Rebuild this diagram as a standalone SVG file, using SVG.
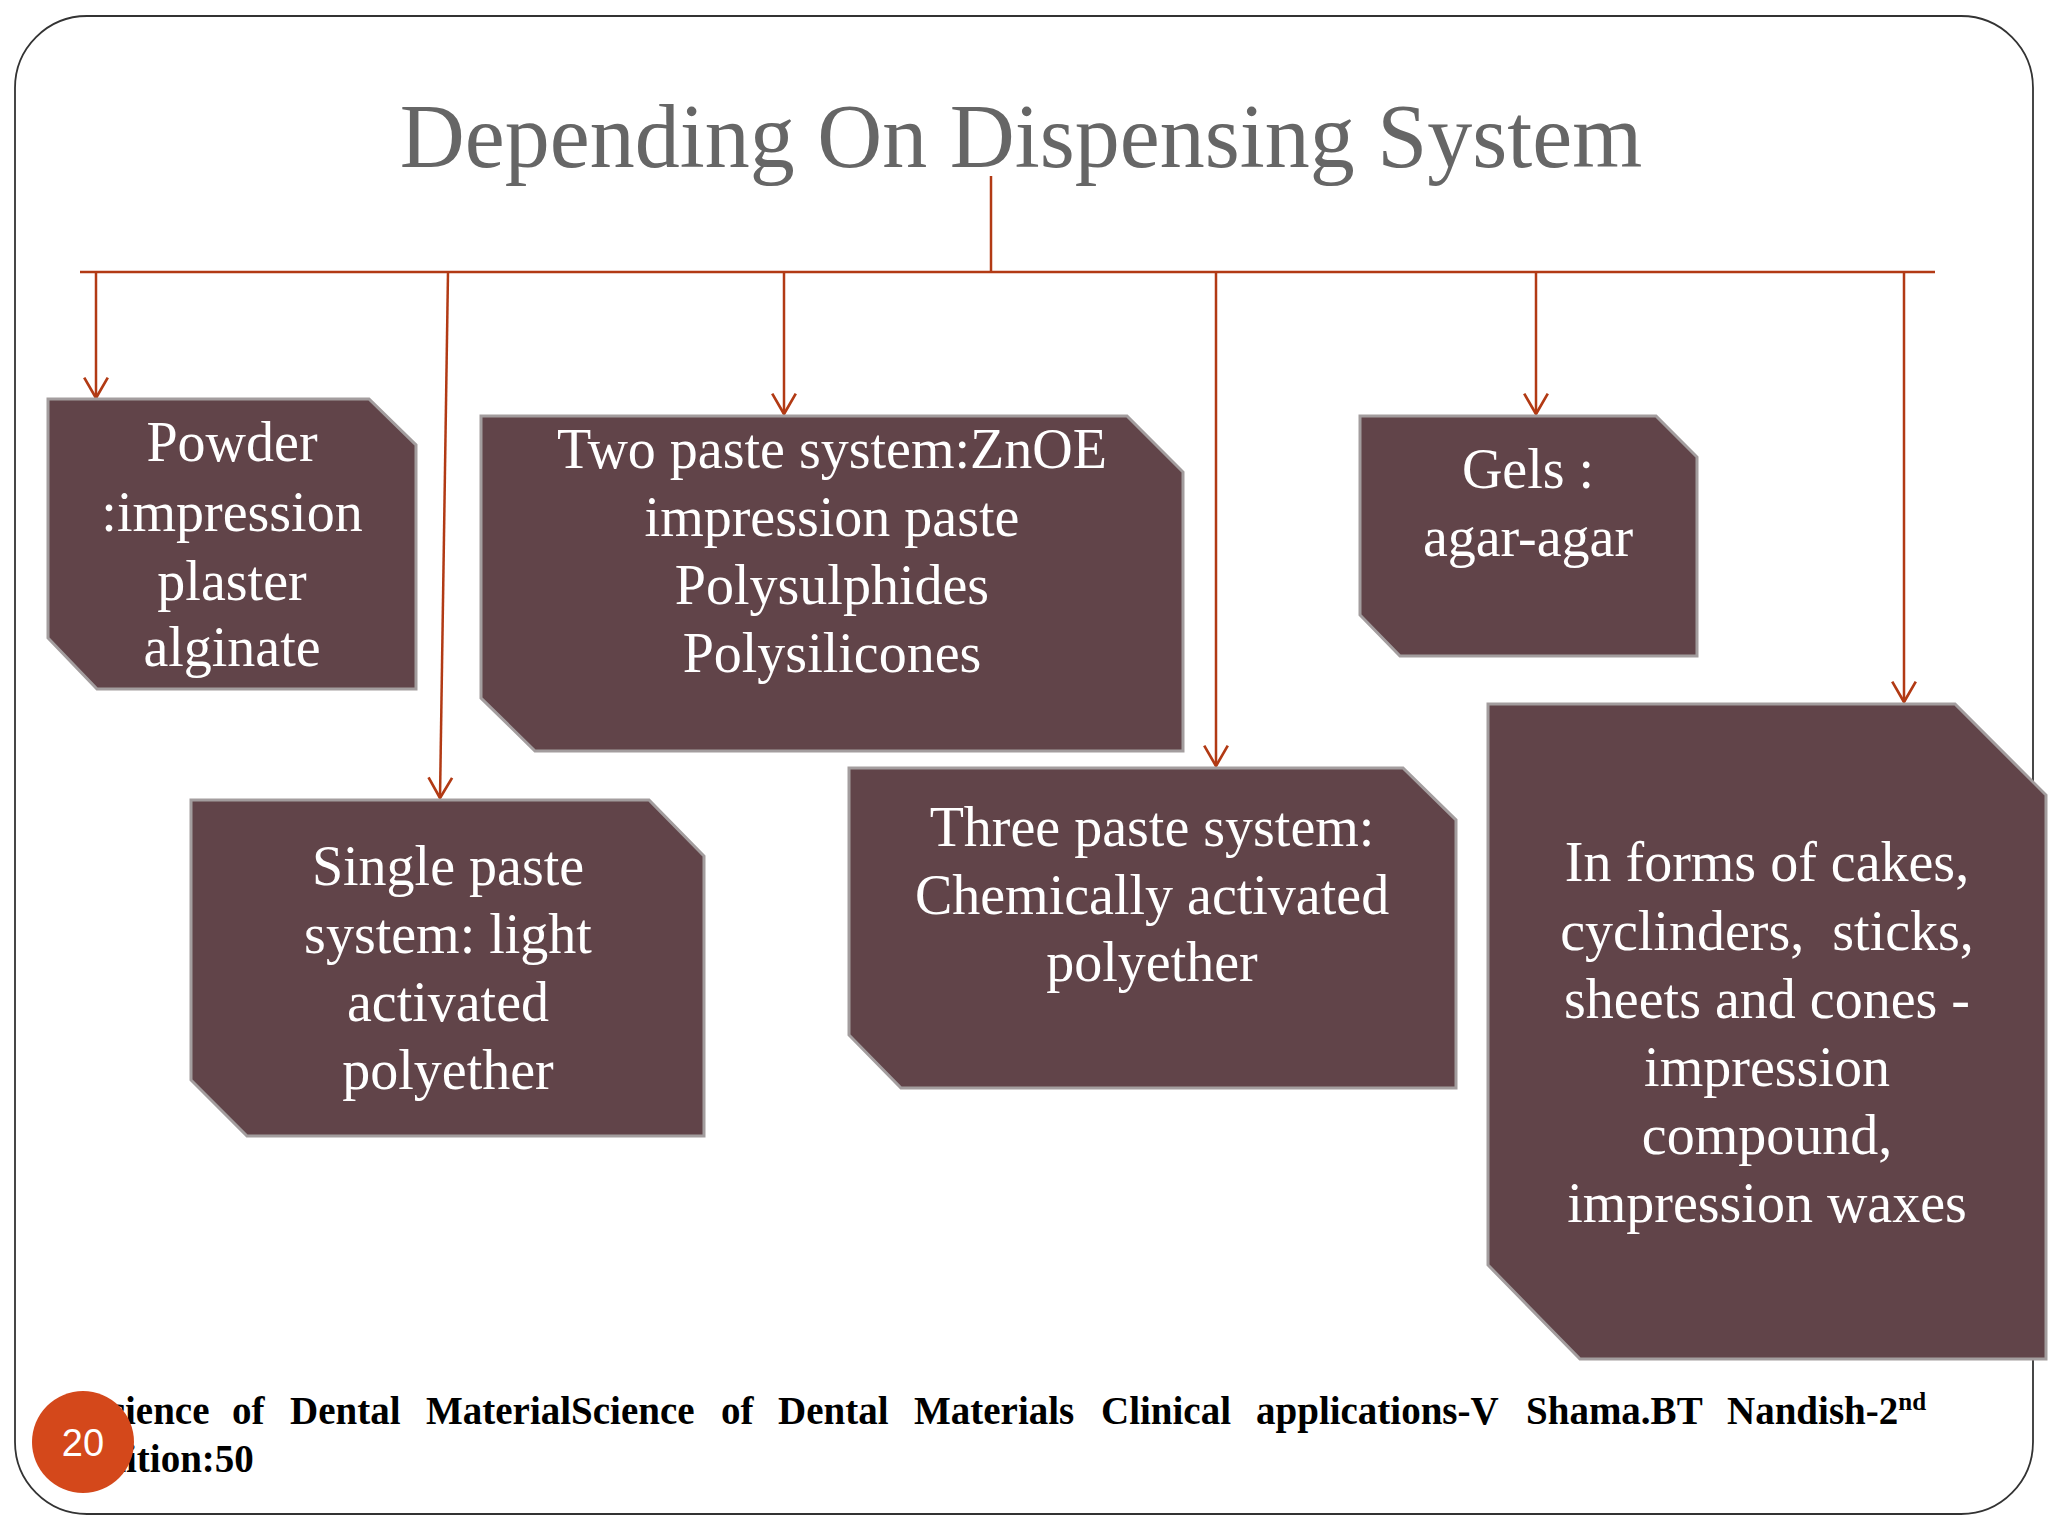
<svg xmlns="http://www.w3.org/2000/svg" width="2048" height="1536" viewBox="0 0 2048 1536">
<style>
.box{fill:#614449;stroke:#a39d9e;stroke-width:3}
.bt{font-family:"Liberation Serif","Times New Roman",serif;font-size:56px;fill:#ffffff;text-anchor:middle}
.con{stroke:#b23a14;stroke-width:2.5;fill:none}
.ft{font-family:"Liberation Serif","Times New Roman",serif;font-size:39px;font-weight:bold;fill:#000}
</style>
<defs>
<marker id="arr" markerUnits="userSpaceOnUse" markerWidth="30" markerHeight="30" viewBox="-22 -14 24 28" refX="0" refY="0" orient="auto" overflow="visible">
<path d="M-19,-11 L0,0 L-19,11" fill="none" stroke="#b23a14" stroke-width="2.5"/>
</marker>
</defs>
<rect x="0" y="0" width="2048" height="1536" fill="#ffffff"/>
<rect x="15" y="16" width="2018" height="1498" rx="72" ry="72" fill="#ffffff" stroke="#333333" stroke-width="1.8"/>
<text x="1021" y="167" font-family="'Liberation Serif','Times New Roman',serif" font-size="90" fill="#666666" text-anchor="middle">Depending On Dispensing System</text>
<g id="connectors">
<path class="con" d="M991,176 V272"/>
<path class="con" d="M80,272 H1935"/>
<path class="con" d="M96,272 V398" marker-end="url(#arr)"/>
<path class="con" d="M448,272 L440,798" marker-end="url(#arr)"/>
<path class="con" d="M784,272 V414" marker-end="url(#arr)"/>
<path class="con" d="M1216,272 V766" marker-end="url(#arr)"/>
<path class="con" d="M1536,272 V414" marker-end="url(#arr)"/>
<path class="con" d="M1904,272 V702" marker-end="url(#arr)"/>
</g>
<g id="node-powder">
<path class="box" d="M48,399 H369 L416,445 V689 H97 L48,638 Z"/>
<text class="bt" x="232" y="461">Powder</text>
<text class="bt" x="232" y="531">:impression</text>
<text class="bt" x="232" y="600">plaster</text>
<text class="bt" x="232" y="666">alginate</text>
</g>
<g id="node-two-paste">
<path class="box" d="M481,416 H1127 L1183,472 V751 H535 L481,698 Z"/>
<text class="bt" x="832" y="468">Two paste system:ZnOE</text>
<text class="bt" x="832" y="536">impression paste</text>
<text class="bt" x="832" y="604">Polysulphides</text>
<text class="bt" x="832" y="672">Polysilicones</text>
</g>
<g id="node-gels">
<path class="box" d="M1360,416 H1656 L1697,457 V656 H1400 L1360,615 Z"/>
<text class="bt" x="1528" y="488">Gels :</text>
<text class="bt" x="1528" y="556">agar-agar</text>
</g>
<g id="node-single-paste">
<path class="box" d="M191,800 H649 L704,856 V1136 H247 L191,1080 Z"/>
<text class="bt" x="448" y="885">Single paste</text>
<text class="bt" x="448" y="953">system: light</text>
<text class="bt" x="448" y="1021">activated</text>
<text class="bt" x="448" y="1089">polyether</text>
</g>
<g id="node-three-paste">
<path class="box" d="M849,768 H1403 L1456,820 V1088 H901 L849,1035 Z"/>
<text class="bt" x="1152" y="846">Three paste system:</text>
<text class="bt" x="1152" y="914">Chemically activated</text>
<text class="bt" x="1152" y="981">polyether</text>
</g>
<g id="node-forms">
<path class="box" d="M1488,704 H1955 L2046,795 V1359 H1580 L1488,1265 Z"/>
<text class="bt" x="1767" y="881" xml:space="preserve">In forms of cakes,</text>
<text class="bt" x="1767" y="950" xml:space="preserve">cyclinders,  sticks,</text>
<text class="bt" x="1767" y="1018" xml:space="preserve">sheets and cones -</text>
<text class="bt" x="1767" y="1086">impression</text>
<text class="bt" x="1767" y="1154">compound,</text>
<text class="bt" x="1767" y="1222">impression waxes</text>
</g>
<g id="footer">
<text class="ft" y="1424"><tspan x="86">Science</tspan><tspan x="232">of</tspan><tspan x="290">Dental</tspan><tspan x="426">MaterialScience</tspan><tspan x="721">of</tspan><tspan x="778">Dental</tspan><tspan x="914">Materials</tspan><tspan x="1101">Clinical</tspan><tspan x="1256">applications-V</tspan><tspan x="1526">Shama.BT</tspan><tspan x="1727">Nandish-2</tspan><tspan font-size="25" dy="-14">nd</tspan></text>
<text class="ft" x="87" y="1472">edition:50</text>
</g>
<g id="slide-number">
<circle cx="83" cy="1442" r="51" fill="#d4481b"/>
<text x="83" y="1456" font-family="'Liberation Sans',Arial,sans-serif" font-size="38" fill="#ffffff" text-anchor="middle">20</text>
</g>
</svg>
